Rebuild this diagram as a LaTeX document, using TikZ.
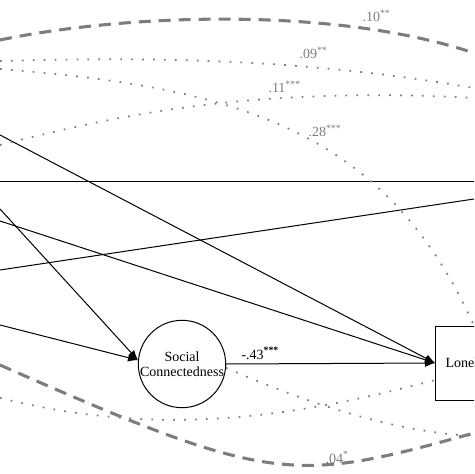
\documentclass[tikz,border=0pt]{standalone}
\usepackage{fontspec}
\setmainfont{Liberation Serif}
\usetikzlibrary{arrows.meta}
\tikzset{every picture/.style={line width=0.75pt}}
\definecolor{covgray}{RGB}{125,125,125}
\tikzset{
	pathto/.style={-{Latex[length=7.5pt,width=6pt]}},
	covdots/.style={draw=covgray, line width=1.3pt, dash pattern={on 1.3pt off 6.9pt}},
	covdash/.style={draw=covgray, line width=2.3pt, dash pattern={on 9pt off 6pt}},
	coef/.style={anchor=base west, inner sep=0pt, text=covgray, font=\fontsize{10.5}{12}\selectfont},
}

\begin{document}
\begin{tikzpicture}[x=0.75pt,y=0.75pt,yscale=-1,xscale=1]
	\useasboundingbox (0,0) rectangle (474,474);
	\clip (0,0) rectangle (474,474);

	%Shape: Circle
	\node (sc) [circle, draw, minimum size=64.5pt, inner sep=0pt, align=center, font=\fontsize{10.5}{11.3}\selectfont] at (182,364) {Social\\Connectedness};
	%Shape: Rectangle
	\node (lon) [draw, anchor=west, minimum height=55.5pt, inner xsep=7.5pt, font=\fontsize{10.5}{12}\selectfont] at (435,363) {Loneliness};

	% free ends, cut off by the edge
	\coordinate (a1) at (0,135);
	\coordinate (a2) at (0,221);
	\coordinate (a3) at (0,209);
	\coordinate (a4) at (0,325);
	\coordinate (a5) at (0,181);
	\coordinate (b5) at (474,181);
	\coordinate (a6) at (0,270);
	\coordinate (b6) at (474,199);
	\coordinate (c10a) at (0,40);
	\coordinate (c10b) at (474,53);
	\coordinate (c09a) at (0,61);
	\coordinate (c09b) at (474,88);
	\coordinate (c11a) at (0,145);
	\coordinate (c11b) at (474,98);
	\coordinate (c28a) at (0,69);
	\coordinate (c28b) at (474,326);
	\coordinate (c04a) at (0,365);
	\coordinate (c04b) at (474,433);
	\coordinate (cla) at (0,398);
	\coordinate (clb) at (435,380);
	\coordinate (csb) at (474,436);

	%Straight Lines
	\draw [pathto] (a1) -- (lon.west);
	\draw [pathto] (a2) -- (lon.west);
	\draw [pathto] (a3) -- (sc.175);
	\draw [pathto] (a4) -- (sc.175);
	\draw (a5) -- (b5);
	\draw (a6) -- (b6);
	\draw [pathto] (sc.east) -- (lon.west);

	%Curve Lines
	\draw [covdash] (c10a) .. controls (120,15) and (330,5) .. (c10b);
	\draw [covdots] (c09a) .. controls (150,57) and (300,58) .. (c09b);
	\draw [covdots] (c11a) .. controls (100,120) and (240,85) .. (c11b);
	\draw [covdots] (c28a) .. controls (230,87) and (385,126) .. (c28b);
	\draw [covdash] (c04a) .. controls (271,484) and (291,484) .. (c04b);
	\draw [covdots] (cla) .. controls (150,435) and (278,422) .. (clb);
	\draw [covdots] (sc.-5) .. controls (300,400) and (390,432) .. (csb);

	% Text Node
	\node (k10) [coef] at (362,22) {.10\textsuperscript{**}};
	% Text Node
	\node (k09) [coef] at (299,59) {.09\textsuperscript{**}};
	% Text Node
	\node (k11) [coef] at (268,93) {.11\textsuperscript{***}};
	% Text Node
	\node (k28) [coef] at (308,137) {.28\textsuperscript{***}};
	% Text Node
	\node (k43) [coef, text=black] at (241,359) {-.43\textsuperscript{\textbf{***}}};
	% Text Node
	\node (k04) [coef] at (325,463) {.04\textsuperscript{*}};

\end{tikzpicture}
\end{document}
